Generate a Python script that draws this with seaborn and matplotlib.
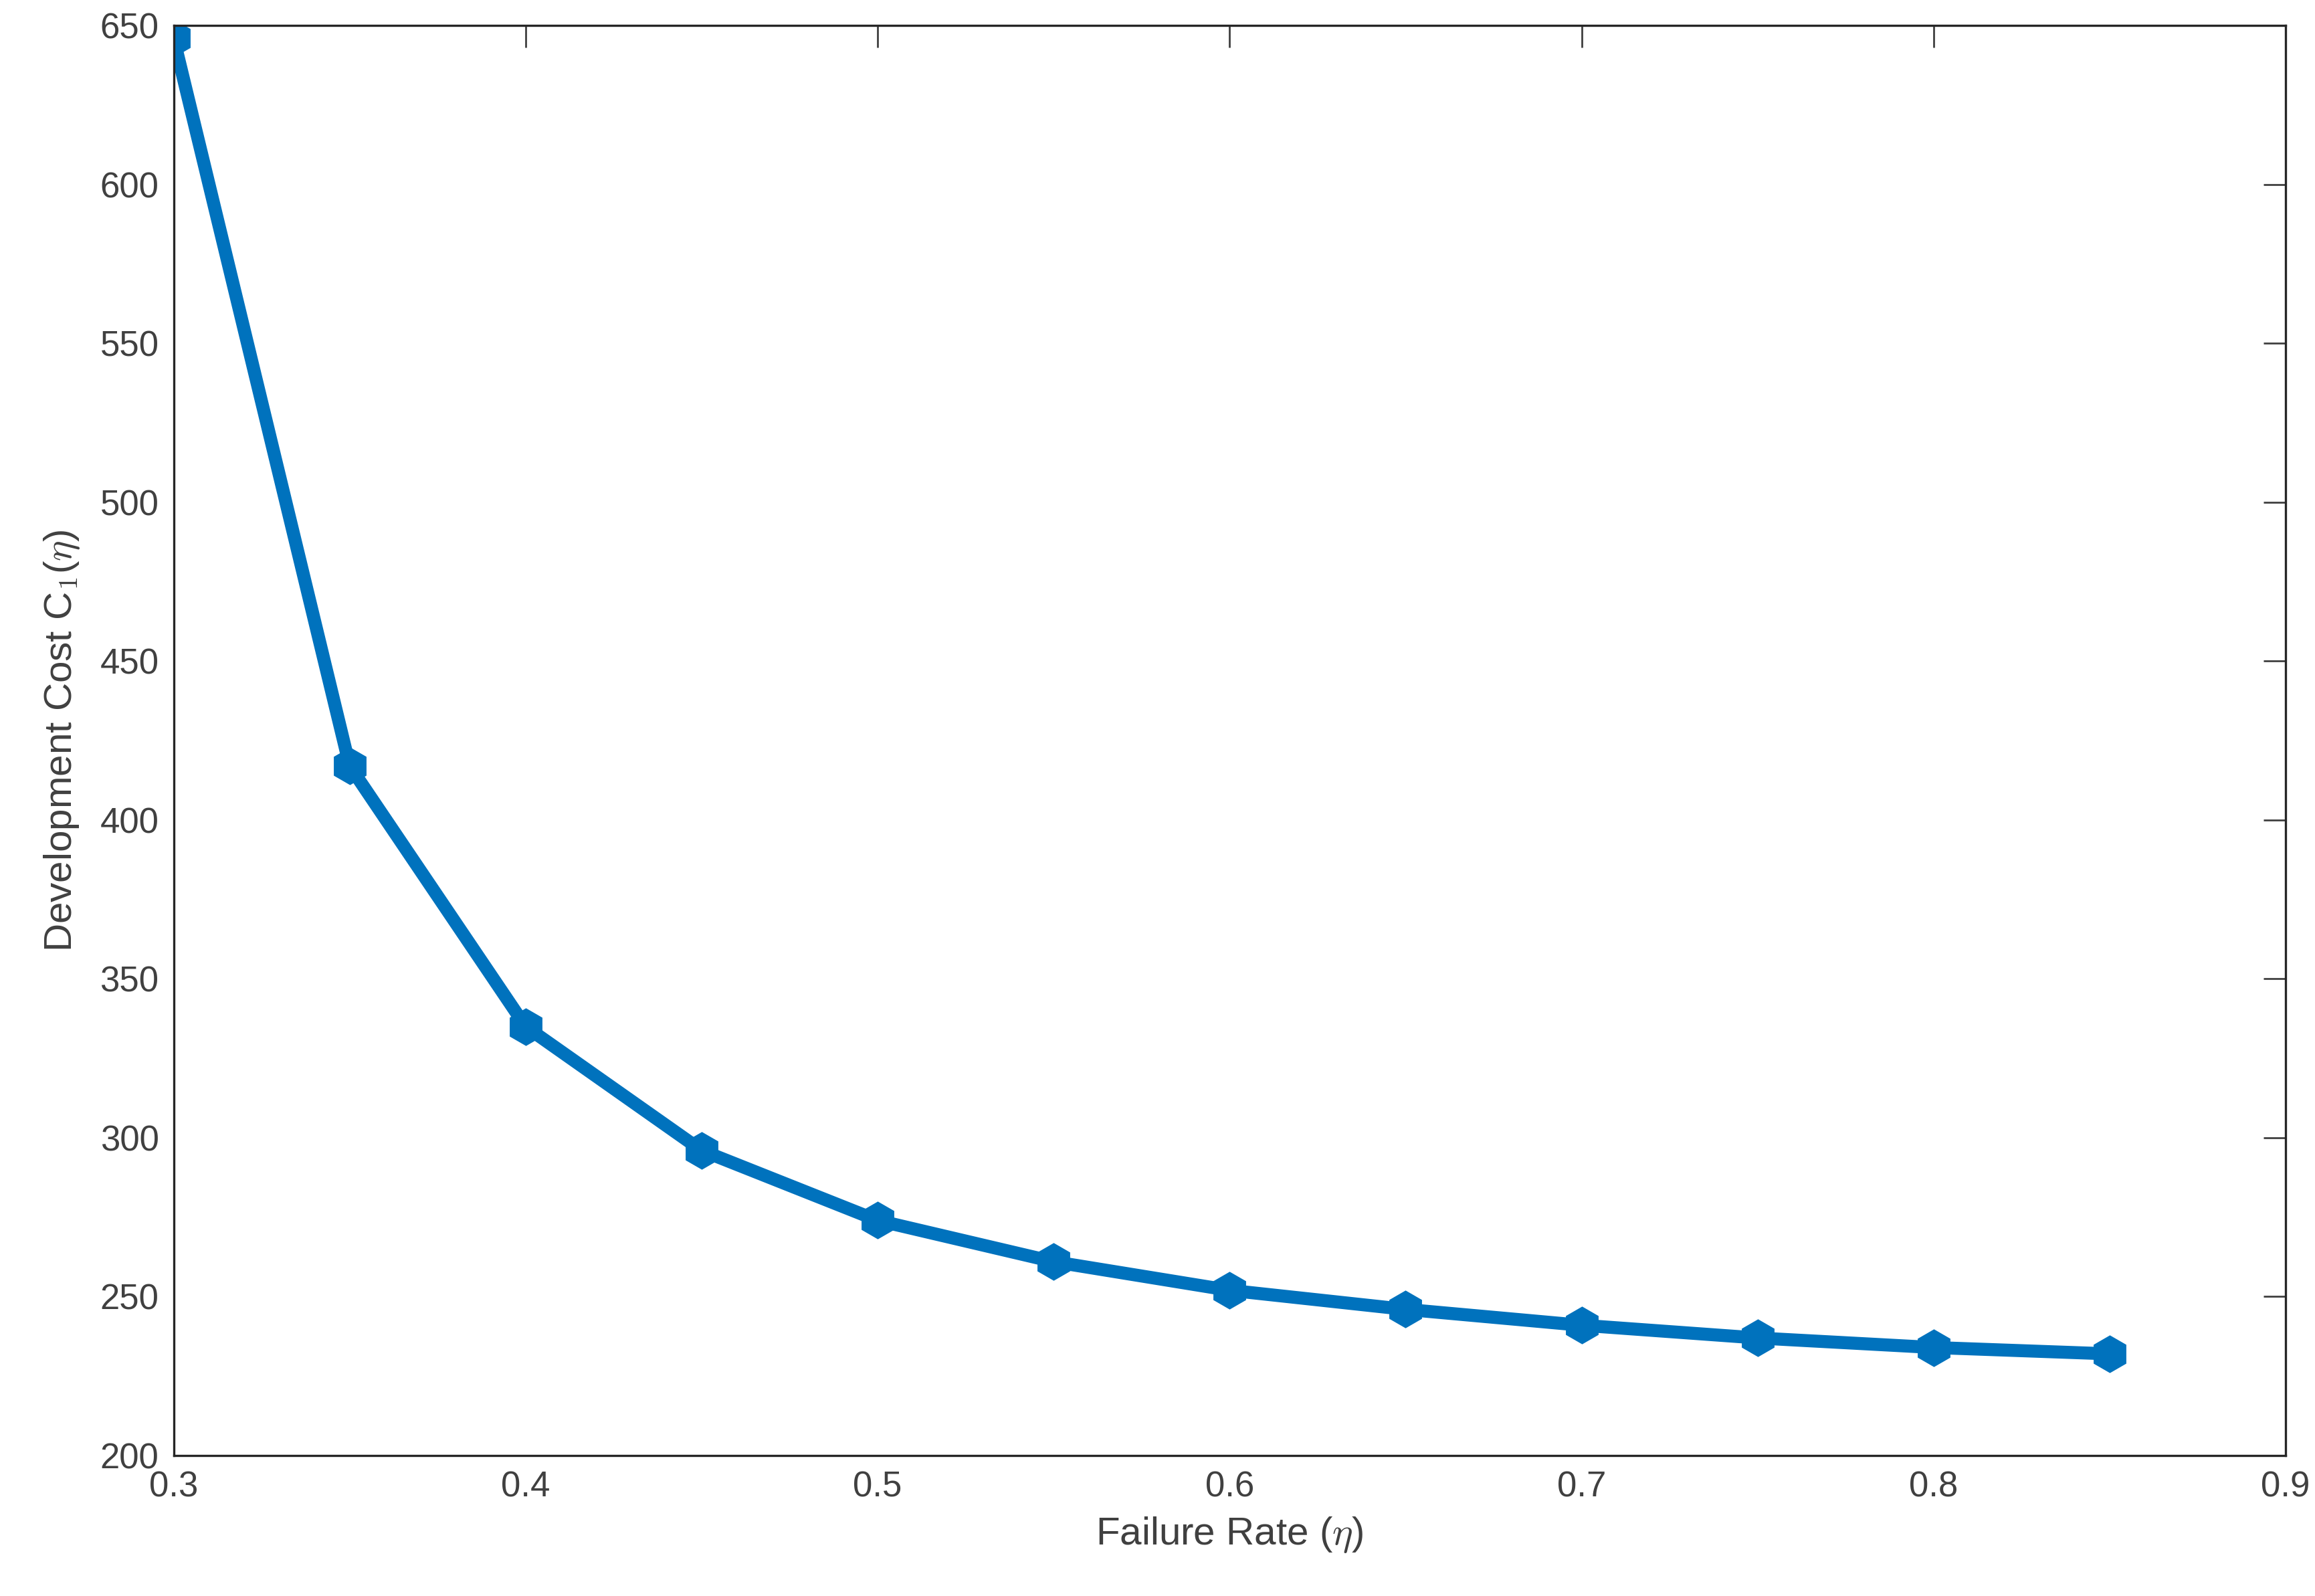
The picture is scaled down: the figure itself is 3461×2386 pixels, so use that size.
import matplotlib
matplotlib.use("Agg")
import matplotlib.pyplot as plt
import seaborn as sns
import pandas as pd

failure_rate = [0.3, 0.35, 0.4, 0.45, 0.5, 0.55, 0.6, 0.65, 0.7, 0.75, 0.8, 0.85]
dev_cost = [646, 417, 335, 296, 274, 261, 252, 246, 241, 237, 234, 232]
xticks = [0.3, 0.4, 0.5, 0.6, 0.7, 0.8, 0.9]
yticks = [200, 250, 300, 350, 400, 450, 500, 550, 600, 650]

sns.set_style("white")
plt.rcParams['font.family'] = ['Liberation Sans', 'DejaVu Sans']
plt.rcParams['mathtext.fontset'] = 'cm'

df = pd.DataFrame({"x": failure_rate, "y": dev_cost})
fig = plt.figure(figsize=(17.31, 11.93), dpi=200)
ax = fig.add_axes([0.075, 0.088, 0.912, 0.896])
sns.lineplot(data=df, x="x", y="y", ax=ax, color="#0072BD", linewidth=7,
             marker="h", markersize=18, markeredgewidth=2, markeredgecolor="#0072BD")
ax.set_xlim(0.3, 0.9)
ax.set_ylim(200, 650)
ax.set_xticks(xticks)
ax.set_xticklabels([f"{v:g}" for v in xticks])
ax.set_yticks(yticks)
ax.tick_params(direction="in", top=True, right=True, length=12, width=1,
               labelsize=19, colors="#404040", pad=8)
for s in ax.spines.values():
    s.set_color("#262626"); s.set_linewidth(1.2)
ax.set_xlabel(r"Failure Rate ($\eta$)", fontsize=21, color="#404040", labelpad=6)
ax.set_ylabel(r"Development Cost C$_1$($\eta$)", fontsize=21, color="#404040", labelpad=10)
fig.savefig("out.png", dpi=200)
